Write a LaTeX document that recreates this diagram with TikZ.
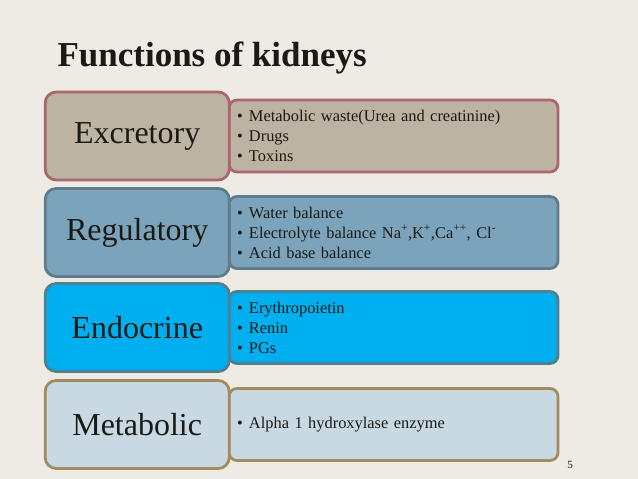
\documentclass[tikz,border=0pt]{standalone}
\usepackage{fontspec}
\setmainfont{Liberation Serif}
\usepackage{xcolor}
\usetikzlibrary{positioning}
\definecolor{pagebg}{HTML}{EEEBE4}
\definecolor{excfill}{HTML}{BCB3A2}
\definecolor{excline}{HTML}{A9666F}
\definecolor{regfill}{HTML}{7BA4BC}
\definecolor{regline}{HTML}{5E7C8C}
\definecolor{endfill}{HTML}{00AFEF}
\definecolor{endline}{HTML}{4F8090}
\definecolor{metfill}{HTML}{C9D9E4}
\definecolor{metline}{HTML}{A08C5C}
\definecolor{ink}{HTML}{1A1A14}
\newcommand{\itm}[1]{\makebox[12pt][l]{\textbullet}#1}

\begin{document}
\begin{tikzpicture}[x=1pt, y=-1pt,
  head/.style={draw, rounded corners=11pt, line width=2.8pt, minimum width=184pt,
    minimum height=88pt, font=\fontsize{32}{36}\selectfont, text=ink},
  list/.style={draw, rounded corners=8pt, line width=2.8pt, minimum height=72pt,
    text width=313pt, inner xsep=8pt, align=left, text=ink,
    font=\fontsize{16.4}{20}\selectfont},
]
\fill[pagebg] (0,0) rectangle (638,479);
\useasboundingbox (0,0) rectangle (638,479);

\node[anchor=base west, font=\fontsize{35}{40}\selectfont\bfseries, text=ink] (title) at (54,66) {Functions of kidneys};

% right-hand lists first, heads drawn over them
\node[list, draw=excline, fill=excfill] (excl) at (393.5,136) {\itm{Metabolic waste(Urea and creatinine)}\\\itm{Drugs}\\\itm{Toxins}};
\node[list, draw=regline, fill=regfill] (regl) at (393.5,232.5) {\itm{Water balance}\\\itm{Electrolyte balance Na\textsuperscript{+},K\textsuperscript{+},Ca\textsuperscript{++}, Cl\textsuperscript{-}}\\\itm{Acid base balance}};
\node[list, draw=endline, fill=endfill] (endl) at (393.5,327.5) {\itm{Erythropoietin}\\\itm{Renin}\\\itm{PGs}};
\node[list, draw=metline, fill=metfill] (metl) at (393.5,424.5) {\itm{Alpha 1 hydroxylase enzyme}};

\node[head, draw=excline, fill=excfill, left=-3pt of excl] (exc) {Excretory};
\node[head, draw=regline, fill=regfill, left=-3pt of regl] (reg) {Regulatory};
\node[head, draw=endline, fill=endfill, left=-3pt of endl] (endo) {Endocrine};
\node[head, draw=metline, fill=metfill, left=-3pt of metl] (met) {Metabolic};

\node[font=\fontsize{11}{13}\selectfont, text=ink] (page) at (570,465) {5};
\end{tikzpicture}
\end{document}
